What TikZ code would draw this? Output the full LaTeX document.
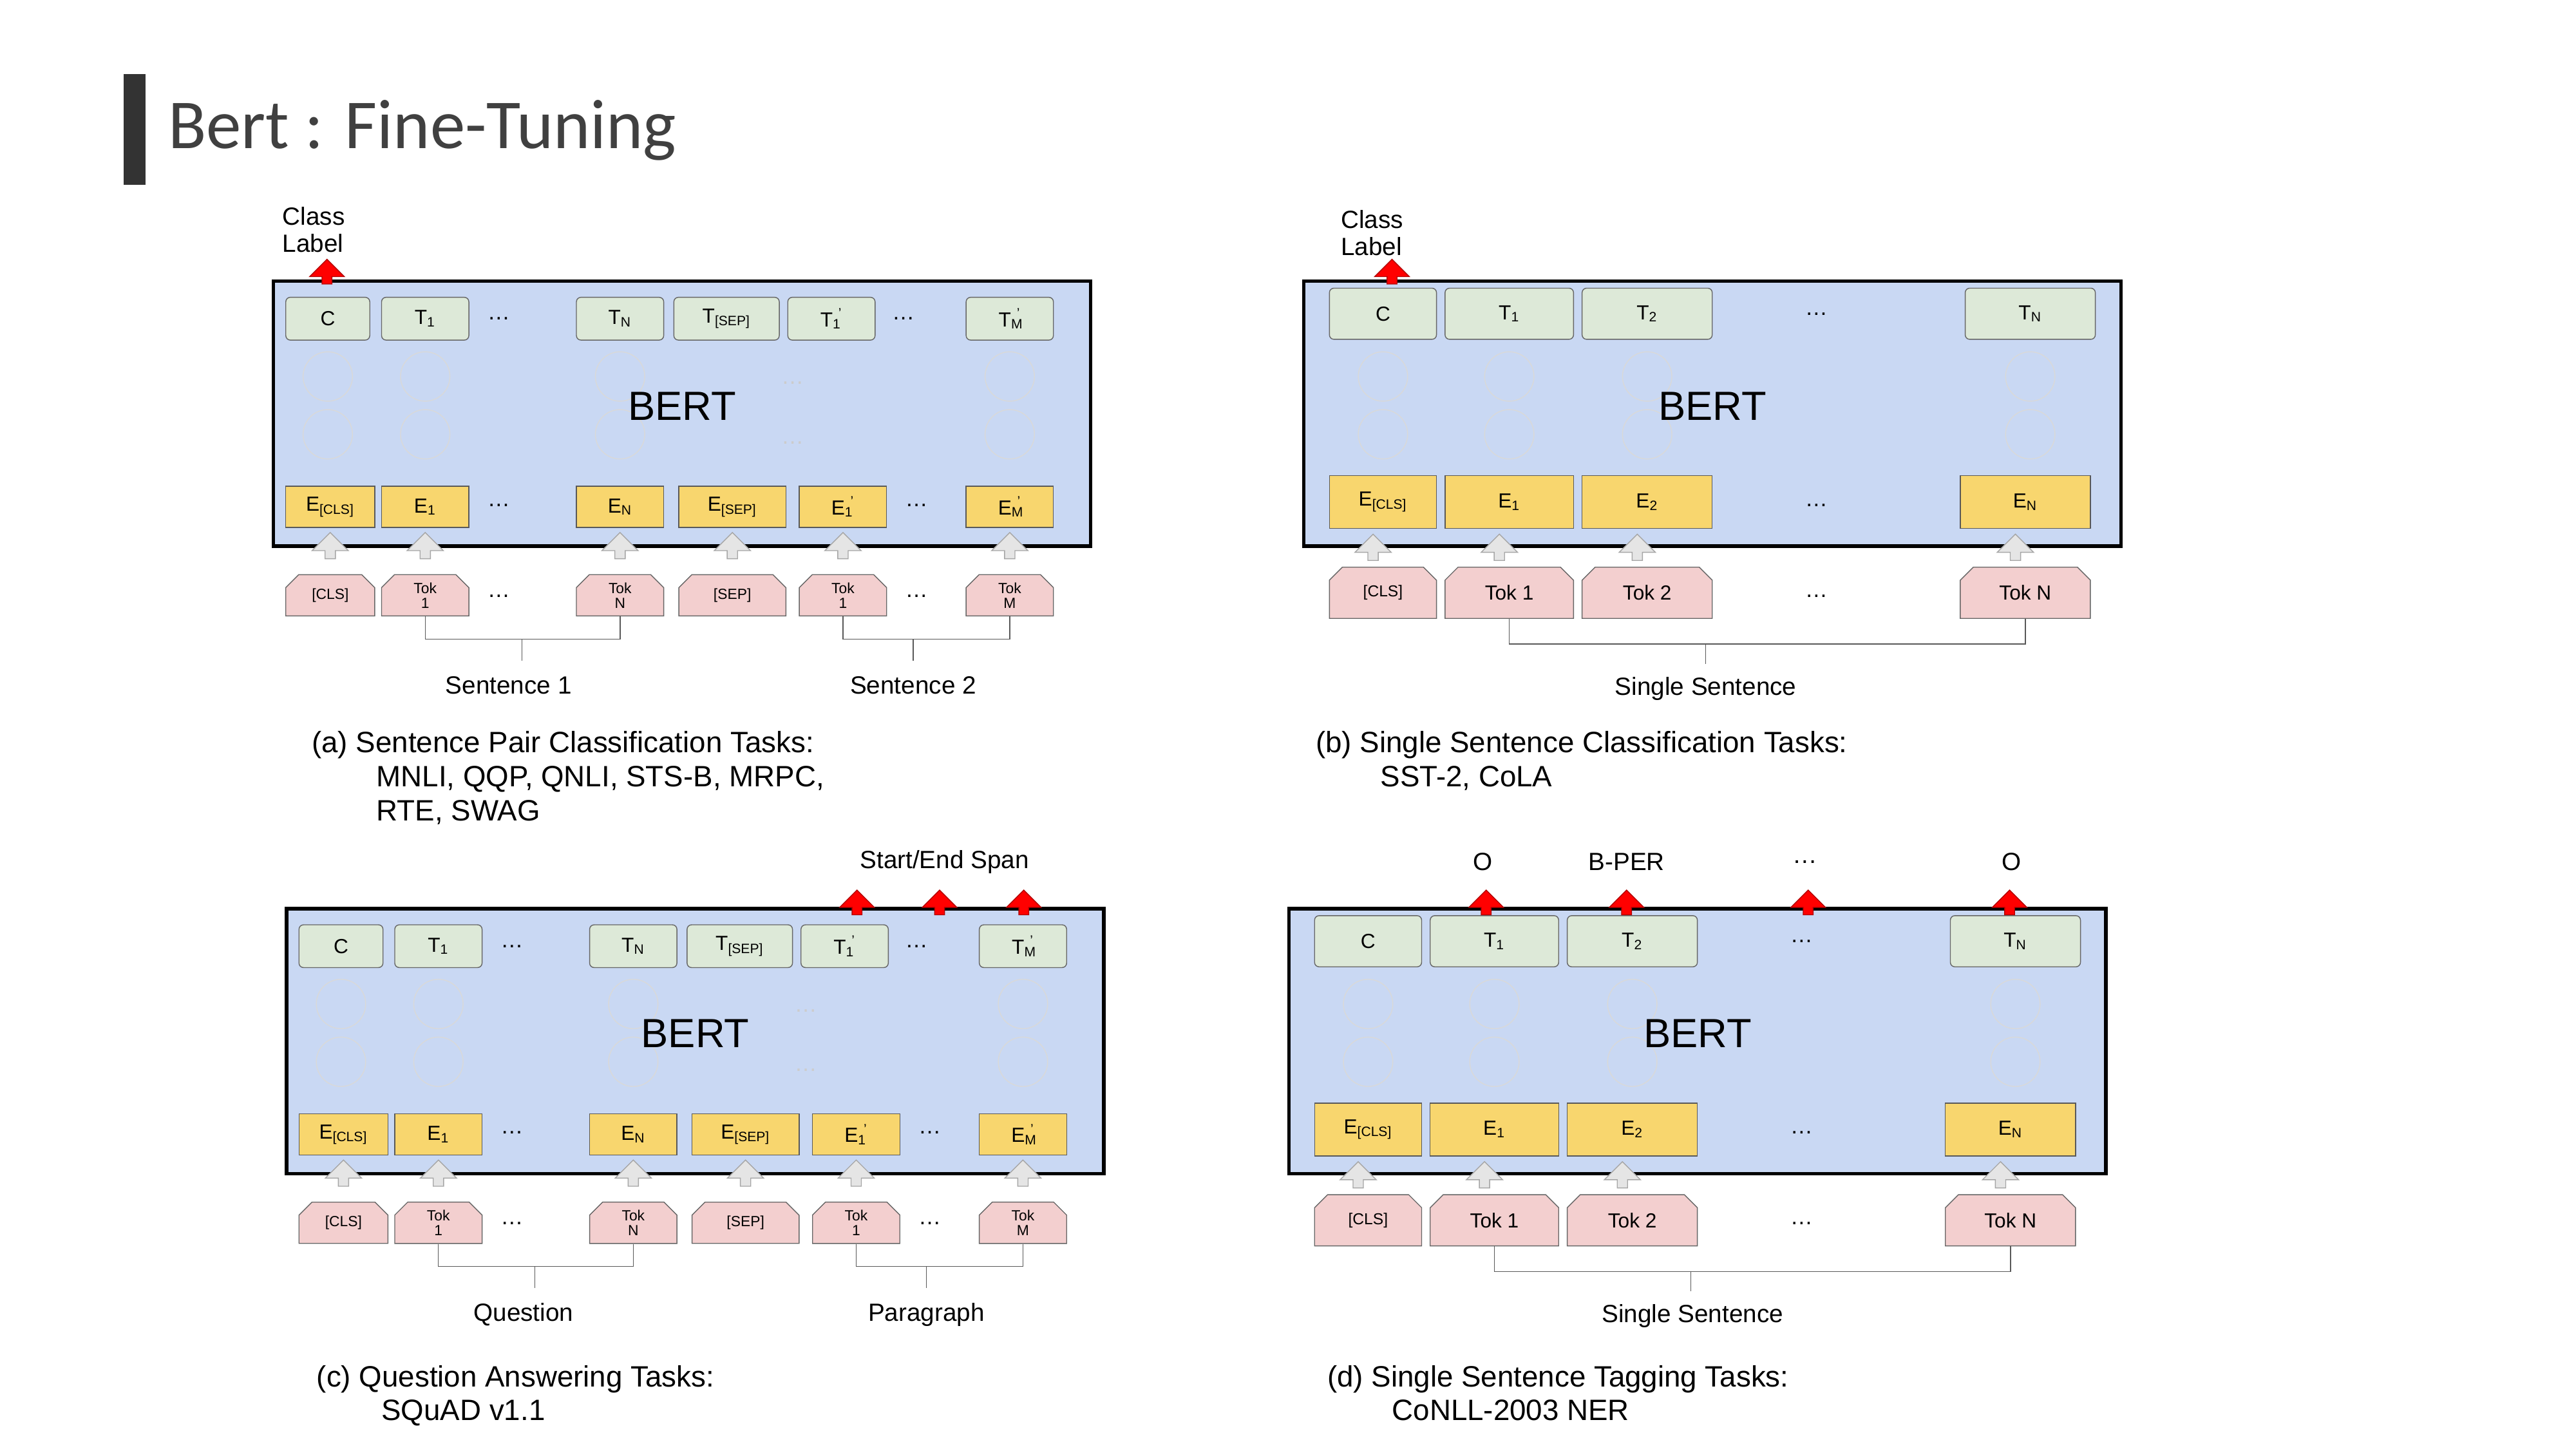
\documentclass[tikz,border=0pt]{standalone}
\usepackage{fontspec}
\setmainfont{Liberation Sans}
\newfontfamily\titlefont{Carlito}
\usetikzlibrary{shapes.misc,shapes.arrows}
\definecolor{bertblue}{HTML}{C9D8F3}
\definecolor{tgreen}{HTML}{DDE9D8}
\definecolor{eyellow}{HTML}{F8D66E}
\definecolor{tokpink}{HTML}{F3CFCF}
\newcommand{\tsub}[2]{#1\textsubscript{#2}}
\newcommand{\tsubp}[2]{#1\rlap{\textsubscript{#2}}\,\textsuperscript{\,'}}

% output row, embedding row and token row of one panel
\newcommand{\panelrows}[6]{%
  \node[bert, minimum width=360.9pt, minimum height=117.1pt] (box) at (248,80.5) {};
  \foreach \xl/\xr in {#1}
    \foreach \yy in {#2,#3}
      \node[ghost] at ({(\xl+\xr)/2},\yy) {};
  \node[font=\fontsize{18}{18}\selectfont] (bert) at (248,#3-17) {BERT};
  \foreach \xl/\xr/\txt [count=\i] in {#4}
    \node[tbox, minimum width={(\xr-\xl)*0.7276}] (t\i) at ({(\xl+\xr)/2},#6) {\txt};
  \foreach \xl/\xr/\txt [count=\i] in {#5}{
    \node[ebox, minimum width={(\xr-\xl)*0.7276}] (e\i) at ({(\xl+\xr)/2},#6+114) {\txt};
  }}

\begin{document}
\begin{tikzpicture}[x=0.02564cm, y=-0.02564cm,
    bert/.style={draw, line width=1.6pt, fill=bertblue},
    ghost/.style={circle, draw=gray!30, minimum size=21.8pt},
    tbox/.style={draw=gray!80!black, fill=tgreen, rounded corners=2pt, minimum height=18.9pt,
      inner sep=0pt, font=\fontsize{9}{9}\selectfont},
    ebox/.style={draw=gray!70!black, fill=eyellow, minimum height=18.2pt,
      inner sep=0pt, font=\fontsize{9}{9}\selectfont},
    tok/.style={chamfered rectangle, chamfered rectangle corners={north east,north west},
      chamfered rectangle xsep=2.2pt, draw=gray!80!black, fill=tokpink, minimum height=18.2pt,
      inner sep=0pt, align=center, font=\fontsize{6.5}{6.5}\selectfont},
    inarrow/.style={single arrow, draw=gray!70, fill=gray!20, shape border rotate=90,
      minimum height=11.6pt, minimum width=16pt, single arrow head extend=3pt, inner sep=1pt},
    outarrow/.style={single arrow, draw=red!70!black, fill=red, shape border rotate=90,
      minimum height=10.9pt, minimum width=15.3pt, single arrow head extend=3pt, inner sep=1pt},
    dots/.style={font=\fontsize{10}{10}\selectfont},
    lbl/.style={font=\fontsize{11}{12}\selectfont},
    caption/.style={font=\fontsize{13}{15}\selectfont, align=left, anchor=north west}]
  \useasboundingbox (0,0) rectangle (1560,877.5);

  % title
  \fill[black!80] (75,45) rectangle (88,112);
  \node[anchor=west, text=black!75, font=\titlefont\fontsize{31}{31}\selectfont] (title) at (97,79) {Bert : Fine-Tuning};

  % (a) and (c): sentence pairs
  \foreach \px/\py/\pn in {165/170/a, 173/550/c}{
  \begin{scope}[shift={(\px,\py)}, name prefix=\pn-]
    \panelrows{8/59,66/119,184/237,420/473}{58}{93}%
      {8/59/C, 66/119/\tsub{T}{1}, 184/237/\tsub{T}{N}, 243/307/\tsub{T}{[SEP]}, 312/365/\tsubp{T}{1}, 420/473/\tsubp{T}{M}}%
      {8/62/\tsub{E}{[CLS]}, 66/119/\tsub{E}{1}, 184/237/\tsub{E}{N}, 246/311/\tsub{E}{[SEP]}, 319/372/\tsubp{E}{1}, 420/473/\tsubp{E}{M}}{23}
    \foreach \xl/\xr/\txt [count=\i] in {8/62/[CLS], 66/119/Tok\\1, 184/237/Tok\\N, 246/311/[SEP], 319/372/Tok\\1, 420/473/Tok\\M}{
      \node[tok, minimum width={(\xr-\xl)*0.7276}] (k\i) at ({(\xl+\xr)/2},190.5) {\txt};
      \node[inarrow] (g\i) at ({(\xl+\xr)/2},162) {};}
    \foreach \xx/\yy [count=\i] in {137/23, 382/23, 137/136, 390/136, 137/191, 390/191}
      \node[dots] (d\i) at (\xx,\yy) {\dots};
    \node[dots, text=gray!40] (dm1) at (315,62) {\dots};
    \node[dots, text=gray!40] (dm2) at (315,98) {\dots};
    \coordinate (s1) at (151,230);
    \coordinate (s2) at (388,230);
    \draw[gray!70!black] (k2.south) |- (s1 |- 0,217) -| (k3.south);
    \draw[gray!70!black] (s1 |- 0,217) -- (s1);
    \draw[gray!70!black] (k5.south) |- (s2 |- 0,217) -| (k6.south);
    \draw[gray!70!black] (s2 |- 0,217) -- (s2);
  \end{scope}}
  \node[lbl] (sa1) at (308,415) {Sentence 1};
  \node[lbl] (sa2) at (553,415) {Sentence 2};
  \node[lbl] (qc) at (317,796) {Question};
  \node[lbl] (pc) at (561,796) {Paragraph};

  % (b) and (d): single sentence
  \foreach \px/\py/\pn in {789/170/b, 780/550/d}{
  \begin{scope}[shift={(\px,\py)}, name prefix=\pn-,
      tbox/.append style={minimum height=22.6pt}, ebox/.append style={minimum height=23.3pt},
      tok/.append style={minimum height=22.6pt, font=\fontsize{9}{9}\selectfont}]
    \panelrows{16/81,86/164,169/248,401/480}{58}{93}%
      {16/81/C, 86/164/\tsub{T}{1}, 169/248/\tsub{T}{2}, 401/480/\tsub{T}{N}}%
      {16/81/\tsub{E}{[CLS]}, 86/164/\tsub{E}{1}, 169/248/\tsub{E}{2}, 398/477/\tsub{E}{N}}{20}
    \foreach \xl/\xr/\txt [count=\i] in {16/81/{\fontsize{7}{7}\selectfont[CLS]}, 86/164/Tok 1, 169/248/Tok 2, 398/477/Tok N}{
      \node[tok, minimum width={(\xr-\xl)*0.7276}] (k\i) at ({(\xl+\xr)/2},189) {\txt};
      \node[inarrow] (g\i) at ({(\xl+\xr)/2-6},163) {};}
    \foreach \yy [count=\i] in {20, 136, 191}
      \node[dots] (d\i) at (311,\yy) {\dots};
    \coordinate (s1) at (244,232);
    \draw[gray!70!black] (k2.south) |- (s1 |- 0,220) -| (k4.south);
    \draw[gray!70!black] (s1 |- 0,220) -- (s1);
  \end{scope}}
  \node[lbl] (sb) at (1033,417) {Single Sentence};
  \node[lbl] (sd) at (1025,797) {Single Sentence};

  % outputs
  \node[lbl, align=left] (cla) at (190,139) {Class\\Label};
  \node[outarrow] (ra) at (198,166) {};
  \node[lbl, align=left] (clb) at (831,141) {Class\\Label};
  \node[outarrow] (rb) at (843,166) {};
  \node[lbl] (span) at (572,522) {Start/End Span};
  \foreach \xx [count=\i] in {519,569,620}
    \node[outarrow] (rc\i) at (\xx,548) {};
  \foreach \xx/\txt [count=\i] in {898/O, 985/B-PER, 1093/\dots, 1218/O}
    \node[lbl] (od\i) at (\xx,522) {\txt};
  \foreach \xx [count=\i] in {900,985,1095,1217}
    \node[outarrow] (rd\i) at (\xx,548) {};

  % captions
  \node[caption] (capa) at (184,438) {(a) Sentence Pair Classification Tasks:\\\hspace*{2.2em}MNLI, QQP, QNLI, STS-B, MRPC,\\\hspace*{2.2em}RTE, SWAG};
  \node[caption] (capb) at (792,438) {(b) Single Sentence Classification Tasks:\\\hspace*{2.2em}SST-2, CoLA};
  \node[caption] (capc) at (187,822) {(c) Question Answering Tasks:\\\hspace*{2.2em}SQuAD v1.1};
  \node[caption] (capd) at (799,822) {(d) Single Sentence Tagging Tasks:\\\hspace*{2.2em}CoNLL-2003 NER};
\end{tikzpicture}
\end{document}
